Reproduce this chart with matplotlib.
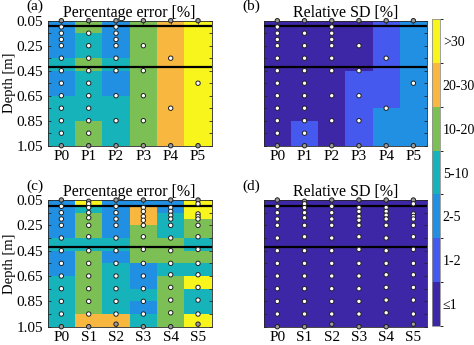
import numpy as np
import matplotlib
matplotlib.use('Agg')
import matplotlib.pyplot as plt
from matplotlib.colors import ListedColormap, BoundaryNorm
from matplotlib.cm import ScalarMappable

plt.rcParams['font.family'] = ['Liberation Serif', 'DejaVu Serif']

#==============================================================================
# data
# depth grid (m) of the colour cells, cell i runs from depth_grid[i] to depth_grid[i+1]
depth_grid = [0.05, 0.10, 0.15, 0.20, 0.25, 0.35, 0.45, 0.55, 0.65, 0.75, 0.85, 0.95, 1.05]

classes = ['≤1', '1-2', '2-5', '5-10', '10-20', '20-30', '>30']
class_colors = ['#3E27A6', '#4659EE', '#2190E2', '#17B3BA', '#7CBF55', '#F8B83F', '#F7F51B']

labels_top = ['P0', 'P1', 'P2', 'P3', 'P4', 'P5']
labels_bot = ['P0', 'S1', 'S2', 'S3', 'S4', 'S5']

# class index per cell, one list per column (top -> bottom)
pe_top = [
    [2, 2, 2, 2, 2, 3, 2, 2, 3, 3, 3, 3],   # P0
    [4, 4, 3, 3, 3, 4, 3, 3, 3, 3, 4, 4],   # P1
    [2, 2, 2, 2, 2, 3, 2, 2, 3, 3, 3, 3],   # P2
    [4, 4, 4, 4, 4, 4, 4, 4, 4, 4, 4, 4],   # P3
    [5, 5, 5, 5, 5, 5, 5, 5, 5, 5, 5, 5],   # P4
    [6, 6, 6, 6, 6, 6, 6, 6, 6, 6, 6, 6],   # P5
]
rsd_top = [
    [0, 0, 0, 0, 0, 0, 0, 0, 0, 0, 0, 0],
    [0, 0, 0, 0, 0, 0, 0, 0, 0, 0, 1, 1],
    [0, 0, 0, 0, 0, 0, 0, 0, 0, 0, 0, 0],
    [0, 0, 0, 0, 0, 0, 1, 1, 1, 1, 1, 1],
    [1, 1, 1, 1, 1, 1, 1, 1, 1, 2, 2, 2],
    [2, 2, 2, 2, 2, 2, 2, 2, 2, 2, 2, 2],
]
pe_bot = [
    [2, 2, 2, 2, 2, 3, 2, 2, 3, 3, 3, 3],   # P0
    [6, 3, 4, 4, 4, 3, 4, 4, 4, 4, 4, 5],   # S1
    [2, 2, 2, 2, 2, 3, 2, 3, 3, 3, 3, 5],   # S2
    [2, 5, 5, 5, 4, 4, 4, 2, 2, 3, 2, 3],   # S3
    [2, 2, 3, 3, 3, 4, 4, 3, 4, 4, 4, 4],   # S4
    [6, 6, 6, 4, 4, 3, 4, 3, 6, 3, 3, 6],   # S5
]
rsd_bot = [
    [0, 0, 0, 0, 0, 0, 0, 0, 0, 0, 0, 0],
    [0, 0, 0, 0, 0, 0, 0, 0, 0, 0, 0, 0],
    [0, 0, 0, 0, 0, 0, 0, 0, 0, 0, 0, 0],
    [0, 0, 0, 0, 0, 0, 0, 0, 0, 0, 0, 0],
    [0, 0, 0, 0, 0, 0, 0, 0, 0, 0, 0, 0],
    [0, 0, 0, 0, 0, 0, 0, 0, 0, 0, 0, 0],
]

# sensor depths (m) per column
dots_top = [
    [0.05, 0.10, 0.15, 0.20, 0.25, 0.35, 0.45, 0.55, 0.65, 0.75, 0.85, 0.95, 1.05],
    [0.05, 0.15, 0.25, 0.35, 0.45, 0.55, 0.65, 0.75, 0.85, 0.95, 1.05],
    [0.05, 0.10, 0.15, 0.20, 0.25, 0.35, 0.45, 0.65, 0.85, 1.05],
    [0.05, 0.25, 0.45, 0.65, 0.85, 1.05],
    [0.05, 0.35, 0.75, 1.05],
    [0.05, 0.55, 1.05],
]
dots_bot = [
    [0.05, 0.10, 0.15, 0.20, 0.25, 0.35, 0.45, 0.55, 0.65, 0.75, 0.85, 0.95, 1.05],
    [0.06, 0.08, 0.11, 0.15, 0.19, 0.25, 0.34, 0.45, 0.55, 0.65, 0.75, 0.85, 0.95, 1.05],
    [0.05, 0.10, 0.15, 0.20, 0.25, 0.35, 0.45, 0.55, 0.65, 0.75, 0.85, 0.95, 1.03],
    [0.05, 0.11, 0.14, 0.18, 0.21, 0.25, 0.34, 0.44, 0.55, 0.65, 0.75, 0.85, 0.95, 1.05],
    [0.05, 0.11, 0.14, 0.17, 0.20, 0.25, 0.35, 0.45, 0.55, 0.64, 0.74, 0.84, 0.94, 1.05],
    [0.05, 0.08, 0.16, 0.18, 0.20, 0.25, 0.34, 0.44, 0.55, 0.64, 0.74, 0.84, 0.95, 1.03],
]

# horizontal reference depths (m)
lines_top = [0.09, 0.42]
lines_bot = [0.10, 0.42]

#==============================================================================
# figure
W, H = 474, 345
fig = plt.figure(figsize=(W / 100, H / 100), dpi=100)

def px_box(l, t, r, b):
    return [l / W, 1 - b / H, (r - l) / W, (b - t) / H]

cmap = ListedColormap(class_colors)
norm = BoundaryNorm(np.arange(-0.5, 7.5, 1), cmap.N)

panels = [
    (px_box(47.7, 20.7, 211.7, 145.7), pe_top, dots_top, labels_top, lines_top, 'Percentage error [%]', '(a)', True),
    (px_box(263.7, 20.7, 427.0, 145.7), rsd_top, dots_top, labels_top, lines_top, 'Relative SD [%]', '(b)', False),
    (px_box(47.7, 200.0, 211.7, 326.7), pe_bot, dots_bot, labels_bot, lines_bot, 'Percentage error [%]', '(c)', True),
    (px_box(263.7, 200.0, 427.0, 326.7), rsd_bot, dots_bot, labels_bot, lines_bot, 'Relative SD [%]', '(d)', False),
]

xedges = np.arange(-0.5, 6.0, 1.0)
spine_col = '#262626'

for box, cls, dots, xlabels, hlines, title, tag, left in panels:
    ax = fig.add_axes(box)
    C = np.array(cls).T
    ax.pcolormesh(xedges, depth_grid, C, cmap=cmap, norm=norm, shading='flat')
    for y in hlines:
        ax.axhline(y, color='k', linewidth=1.6, zorder=3)
    for i, d in enumerate(dots):
        face = ['white'] * len(d)
        face[0] = '#9A9A9A'
        face[-1] = '#9A9A9A'
        ax.scatter(np.full(len(d), i), d, s=10, c=face, edgecolors='#202020',
                   linewidths=0.7, zorder=4, clip_on=False)
    ax.set_xlim(-0.5, 5.5)
    ax.set_ylim(1.05, 0.05)
    ax.set_xticks(range(6))
    ax.set_xticklabels(xlabels, fontsize=11)
    ax.set_yticks(np.arange(0.05, 1.06, 0.2))
    ax.set_yticks(np.arange(0.15, 1.0, 0.2), minor=True)
    if left:
        ax.set_yticklabels(['%.2f' % v for v in np.arange(0.05, 1.06, 0.2)], fontsize=11)
        ax.set_ylabel('Depth [m]', fontsize=10.5)
        # label's right edge about 16 px from the figure edge
        ax.yaxis.set_label_coords(-(box[0] * W - 16.0) / (box[2] * W), 0.5)
    else:
        ax.set_yticklabels([])
    ax.tick_params(which='both', direction='in', top=True, right=True,
                   length=2.5, width=0.6, color=spine_col)
    ax.tick_params(axis='x', pad=3)
    ax.tick_params(axis='y', pad=3.5)
    for s in ax.spines.values():
        s.set_color(spine_col)
        s.set_linewidth(0.6)
    ax.set_title(title, fontsize=11.5, pad=3)
    x0 = box[0] * W - 12.5
    y0 = (1 - box[1] - box[3]) * H - 14
    fig.text(x0 / W, 1 - y0 / H, tag, fontsize=11, ha='center', va='center')

# colorbar
cax = fig.add_axes(px_box(432.3, 19.0, 440.0, 326.0))
sm = ScalarMappable(norm=norm, cmap=cmap)
cb = fig.colorbar(sm, cax=cax, ticks=np.arange(7))
cb.set_ticklabels(classes)
cb.ax.tick_params(labelsize=10, length=0, pad=2)
cb.outline.set_edgecolor('#909090')
cb.outline.set_linewidth(0.6)

plt.savefig('out.png', dpi=100)
